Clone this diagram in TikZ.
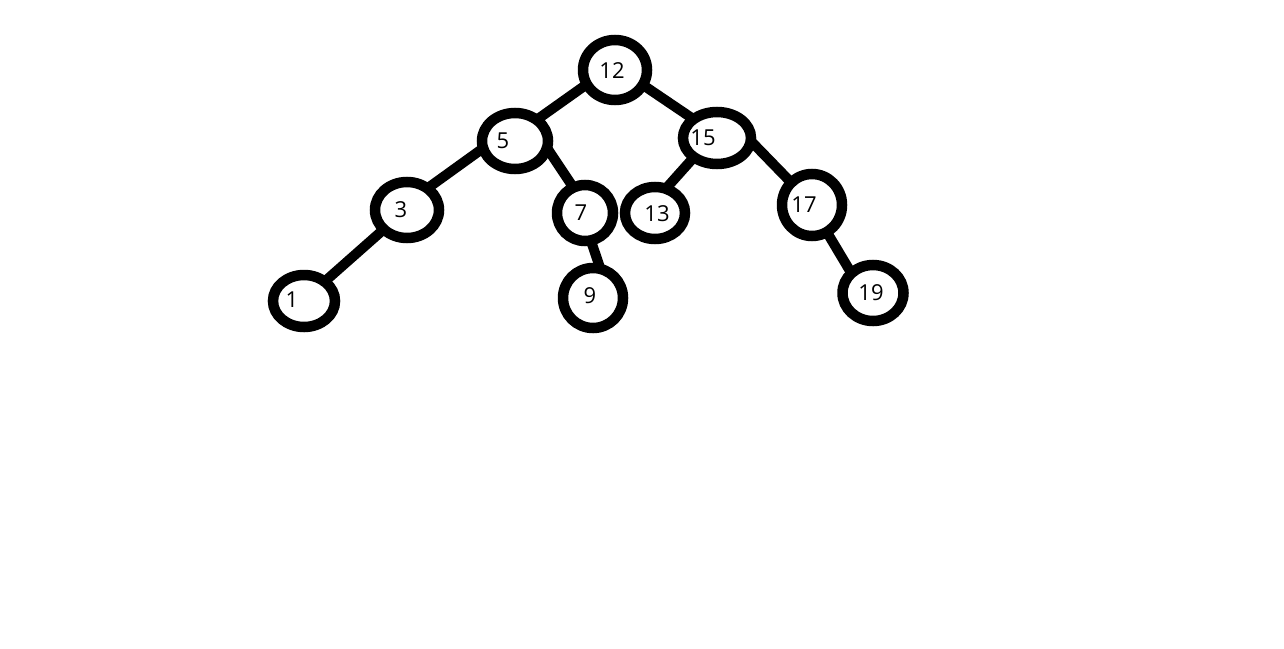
\documentclass[tikz,border=0pt]{standalone}
\usepackage{fontspec}
\setmainfont{Open Sans}
\usetikzlibrary{shapes.geometric,backgrounds}
\tikzset{
  bst/.style={draw=black, fill=white, ellipse, line width=10.5pt, inner sep=0pt},
  lbl/.style={font=\fontsize{22}{26}\selectfont, inner sep=0pt},
  edge/.style={draw=black, line width=10pt, shorten <=-9pt, shorten >=-9pt}
}
\begin{document}
\begin{tikzpicture}[x=1pt,y=-1pt]
\useasboundingbox (0,0) rectangle (1284,648);
\node[bst, minimum width=64pt, minimum height=60pt, label={[lbl,xshift=-3pt,yshift=-1pt]center:12}] (n12) at (615,70) {};
\node[bst, minimum width=66pt, minimum height=56pt, label={[lbl,xshift=-12pt]center:5}] (n5) at (515,141) {};
\node[bst, minimum width=68pt, minimum height=52pt, label={[lbl,xshift=-14pt]center:15}] (n15) at (717,138) {};
\node[bst, minimum width=64pt, minimum height=56pt, label={[lbl,xshift=-6pt]center:3}] (n3) at (407,210) {};
\node[bst, minimum width=62pt, minimum height=52pt, label={[lbl,xshift=-12pt,yshift=1pt]center:1}] (n1) at (304,301) {};
\node[bst, minimum width=56pt, minimum height=56pt, label={[lbl,xshift=-4pt]center:7}] (n7) at (585,213) {};
\node[bst, minimum width=60pt, minimum height=60pt, label={[lbl,xshift=-3pt,yshift=2pt]center:9}] (n9) at (593,298) {};
\node[bst, minimum width=60pt, minimum height=52pt, label={[lbl,xshift=2pt,yshift=-1pt]center:13}] (n13) at (655,213) {};
\node[bst, minimum width=60pt, minimum height=62pt, label={[lbl,xshift=-8pt]center:17}] (n17) at (812,205) {};
\node[bst, minimum width=61pt, minimum height=56pt, label={[lbl,xshift=-2pt]center:19}] (n19) at (873,293) {};
\begin{scope}[on background layer]
\draw[edge] (n12.208.6) -- (n5.43.8);
\draw[edge] (n12.-29.4) -- (n15.142.5);
\draw[edge] (n5.196.6) -- (n3.45);
\draw[edge] (n5.-19) -- (n7.116.6);
\draw[edge] (n3.220.4) -- (n1.43.8);
\draw[edge] (n7.-77.7) -- (n9.81.4);
\draw[edge] (n15.221.3) -- (n13.63.4);
\draw[edge] (n15.-11) -- (n17.133.7);
\draw[edge] (n17.-61.9) -- (n19.135);
\end{scope}
\end{tikzpicture}
\end{document}
